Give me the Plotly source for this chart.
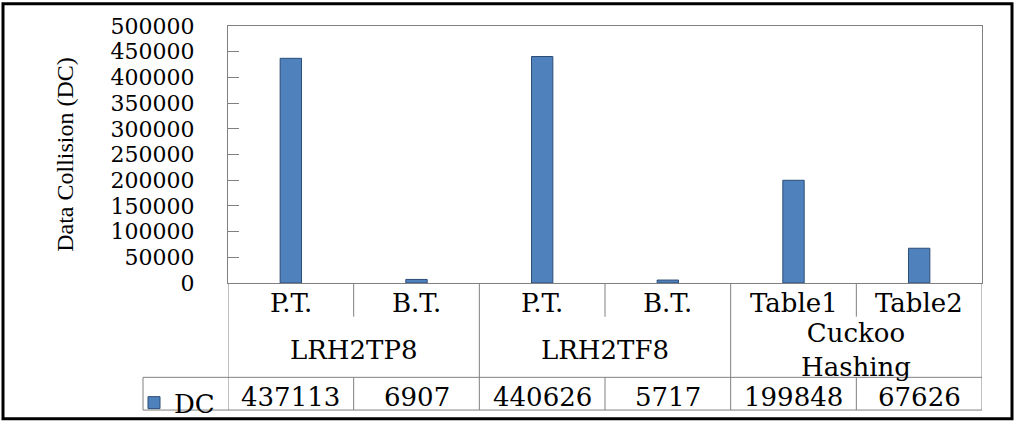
import plotly.graph_objs as go

## Dados
grupos = ['LRH2TP8', 'LRH2TP8', 'LRH2TF8', 'LRH2TF8', 'Cuckoo<br>Hashing', 'Cuckoo<br>Hashing']
sub_cats = ['P.T.', 'B.T.', 'P.T.', 'B.T.', 'Table1', 'Table2']
dc = [437113, 6907, 440626, 5717, 199848, 67626]
serie = 'DC'
y_ticks = list(range(0, 500001, 50000))
y_labels = [str(v) for v in y_ticks]

## Geometria (px na janela 1017x438)
W, H = 1017, 438
PL, PR, PT, PB = 228, 982, 26, 293
cinza = '#808080'
azul = '#4F81BD'
fonte = 'DejaVu Serif'
tam = 26


def px(xp):
    return (xp - PL) / (PR - PL)


def py(yp):
    return (PB - yp) / (PB - PT)


categorias = [f'{g} {s}' for g, s in zip(grupos, sub_cats)]

fig = go.Figure()
fig.add_trace(go.Bar(x=categorias, y=dc, name=serie, width=0.17,
                     marker=dict(color=azul, line=dict(color='#2C4D75', width=1))))

fig.update_xaxes(type='category', showticklabels=False, ticks='', showgrid=False,
                 showline=True, linecolor=cinza, linewidth=1, mirror=True, range=[-0.5, 5.5])
fig.update_yaxes(range=[0, 500000], tickvals=y_ticks, ticktext=y_labels, ticks='inside', ticklen=11,
                 tickcolor=cinza, showgrid=False, zeroline=False, showline=True, linecolor=cinza,
                 linewidth=1, mirror=True, ticklabelstandoff=28,
                 tickfont=dict(family=fonte, size=22, color='black'),
                 title=dict(text='Data Collision (DC)', standoff=30,
                            font=dict(family='Liberation Serif', size=24, color='black')))

shapes = []
linha = dict(color=cinza, width=1)
# divisores dos subgrupos (linha das categorias)
for b in [0.5, 2.5, 4.5]:
    shapes.append(dict(type='line', xref='x', yref='paper', x0=b, x1=b, y0=py(PB), y1=py(328), line=linha))
    shapes.append(dict(type='line', xref='x', yref='paper', x0=b, x1=b, y0=py(391), y1=py(425), line=linha))
# divisores dos grupos
for b in [-0.5, 1.5, 3.5, 5.5]:
    shapes.append(dict(type='line', xref='x', yref='paper', x0=b, x1=b, y0=py(PB), y1=py(425), line=linha))
# tabela de dados
shapes.append(dict(type='line', xref='paper', yref='paper', x0=px(143), x1=1, y0=py(391), y1=py(391), line=linha))
shapes.append(dict(type='line', xref='paper', yref='paper', x0=px(143), x1=1, y0=py(425), y1=py(425), line=linha))
shapes.append(dict(type='line', xref='paper', yref='paper', x0=px(143), x1=px(143), y0=py(391), y1=py(425), line=linha))
# moldura externa
shapes.append(dict(type='rect', xref='paper', yref='paper', x0=px(3), x1=px(1012), y0=py(434), y1=py(3),
                   line=dict(color='black', width=3)))

anots = []
for i, s in enumerate(sub_cats):
    anots.append(dict(x=i, y=py(314), xref='x', yref='paper', text=s, showarrow=False,
                      yanchor='middle', font=dict(family=fonte, size=tam, color='black')))
    anots.append(dict(x=i, y=py(411), xref='x', yref='paper', text=str(dc[i]), showarrow=False,
                      yanchor='middle', font=dict(family=fonte, size=tam, color='black')))
for i in range(0, len(grupos), 2):
    anots.append(dict(x=i + 0.5, y=py(363), xref='x', yref='paper', text=grupos[i], showarrow=False,
                      yanchor='middle', font=dict(family=fonte, size=tam, color='black')))

fig.update_layout(width=W, height=H, margin=dict(l=PL, r=W - PR, t=PT, b=H - PB),
                  plot_bgcolor='white', paper_bgcolor='white', shapes=shapes, annotations=anots,
                  showlegend=True,
                  legend=dict(x=px(134), y=py(393), xanchor='left', yanchor='top', bgcolor='rgba(0,0,0,0)',
                              font=dict(family=fonte, size=tam, color='black'), itemwidth=30))

# tira a margem padrão do <body> para a figura ocupar a janela inteira
ajuste = ("document.body.style.margin='0';"
          "document.documentElement.style.overflow='hidden';"
          "document.body.style.overflow='hidden';"
          "document.body.style.height='438px';")
fig.write_html('out.html', post_script=ajuste, config={'displayModeBar': False})
